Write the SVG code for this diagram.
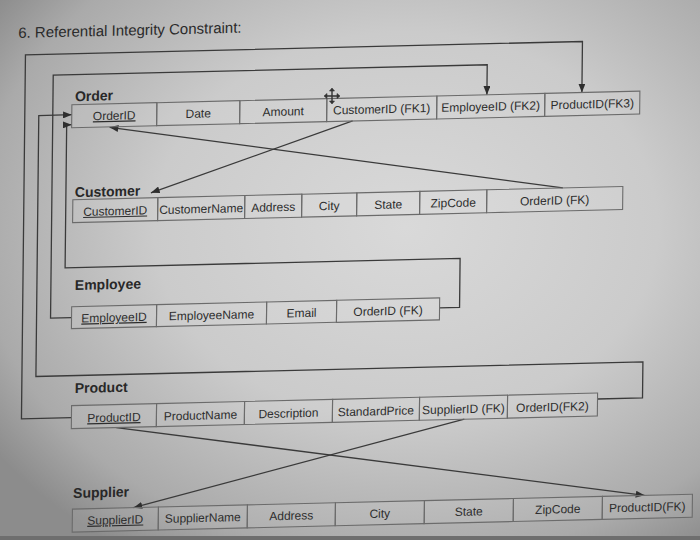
<svg xmlns="http://www.w3.org/2000/svg" width="700" height="540" viewBox="0 0 700 540">
<defs>
  <radialGradient id="bg" cx="0.58" cy="0.42" r="0.72">
    <stop offset="0" stop-color="#d9d9d9"/>
    <stop offset="0.5" stop-color="#cbcbcb"/>
    <stop offset="0.85" stop-color="#aaaaaa"/>
    <stop offset="1" stop-color="#8c8c8c"/>
  </radialGradient>
  <marker id="ah" viewBox="0 0 10 8" refX="10" refY="4" markerWidth="9" markerHeight="7" markerUnits="userSpaceOnUse" orient="auto">
    <path d="M0,0 L10,4 L0,8 z" fill="#2e2e2e"/>
  </marker>
  <style>
    .cell { fill:#ffffff; fill-opacity:0.07; stroke:#6b6b6b; stroke-width:1.1; }
    .t { font-family:"Liberation Sans", Arial, sans-serif; font-size:12px; fill:#2d2d2d; text-anchor:middle; }
    .pk { text-decoration:underline; }
    .lbl { font-family:"Liberation Sans", Arial, sans-serif; font-size:14px; font-weight:bold; fill:#282828; }
    .title { font-family:"Liberation Sans", Arial, sans-serif; font-size:15px; fill:#2a2a2a; }
    .conn { fill:none; stroke:#3a3a3a; stroke-width:1.3; }
    .arr { marker-end:url(#ah); }
  </style>
</defs>
<rect x="0" y="0" width="700" height="540" fill="url(#bg)"/>
<rect x="0" y="536" width="700" height="4" fill="#6e6e6e"/>

<g transform="matrix(1,-0.024,-0.011,1,2.97,8.4)">
  <text class="title" x="15.5" y="30">6. Referential Integrity Constraint:</text>

  <g id="connectors">
    <path class="conn arr" d="M73,411 H23 V47 H580 V98"/>
    <path class="conn arr" d="M72,311 H51 V68 H485 V98"/>
    <path class="conn arr" d="M599,405 H644 V369 H37 V108 H70"/>
    <path class="conn arr" d="M440,310 H460 V261 H65 V118 H70"/>
    <path class="conn arr" d="M351,121 L150,188"/>
    <path class="conn arr" d="M562,193 L108,121.5"/>
    <path class="conn arr" d="M466,422 L136,502.5"/>
    <path class="conn arr" d="M118,422 L647,502.5"/>
  </g>

  <g id="order">
    <text class="lbl" x="73" y="94.5">Order</text>
    <rect class="cell" x="70" y="98" width="85" height="23"/>
    <rect class="cell" x="155" y="98" width="83" height="23"/>
    <rect class="cell" x="238" y="98" width="87" height="23"/>
    <rect class="cell" x="325" y="98" width="110" height="23"/>
    <rect class="cell" x="435" y="98" width="108" height="23"/>
    <rect class="cell" x="543" y="98" width="95" height="23"/>
    <text class="t pk" x="112.5" y="114">OrderID</text>
    <text class="t" x="196.5" y="114">Date</text>
    <text class="t" x="281.5" y="114">Amount</text>
    <text class="t" x="380" y="114">CustomerID (FK1)</text>
    <text class="t" x="489" y="114">EmployeeID (FK2)</text>
    <text class="t" x="590.5" y="114">ProductID(FK3)</text>
  </g>

  <g id="customer">
    <text class="lbl" x="74" y="190.5">Customer</text>
    <rect class="cell" x="72" y="193" width="85" height="23"/>
    <rect class="cell" x="157" y="193" width="87" height="23"/>
    <rect class="cell" x="244" y="193" width="57" height="23"/>
    <rect class="cell" x="301" y="193" width="55" height="23"/>
    <rect class="cell" x="356" y="193" width="63" height="23"/>
    <rect class="cell" x="419" y="193" width="67" height="23"/>
    <rect class="cell" x="486" y="193" width="136" height="23"/>
    <text class="t pk" x="114.5" y="209.5">CustomerID</text>
    <text class="t" x="200.5" y="209.5">CustomerName</text>
    <text class="t" x="272.5" y="209.5">Address</text>
    <text class="t" x="328.5" y="209.5">City</text>
    <text class="t" x="387.5" y="209.5">State</text>
    <text class="t" x="452.5" y="209.5">ZipCode</text>
    <text class="t" x="554" y="209.5">OrderID (FK)</text>
  </g>

  <g id="employee">
    <text class="lbl" x="75" y="283.5">Employee</text>
    <rect class="cell" x="72" y="300" width="85" height="22"/>
    <rect class="cell" x="157" y="300" width="110" height="22"/>
    <rect class="cell" x="267" y="300" width="70" height="22"/>
    <rect class="cell" x="337" y="300" width="103" height="22"/>
    <text class="t pk" x="114.5" y="316">EmployeeID</text>
    <text class="t" x="212" y="316">EmployeeName</text>
    <text class="t" x="302" y="316">Email</text>
    <text class="t" x="388.5" y="316">OrderID (FK)</text>
  </g>

  <g id="product">
    <text class="lbl" x="76" y="386.5">Product</text>
    <rect class="cell" x="73" y="399" width="85" height="23"/>
    <rect class="cell" x="158" y="399" width="88" height="23"/>
    <rect class="cell" x="246" y="399" width="88" height="23"/>
    <rect class="cell" x="334" y="399" width="87" height="23"/>
    <rect class="cell" x="421" y="399" width="88" height="23"/>
    <rect class="cell" x="509" y="399" width="90" height="23"/>
    <text class="t pk" x="115.5" y="416">ProductID</text>
    <text class="t" x="202" y="416">ProductName</text>
    <text class="t" x="290" y="416">Description</text>
    <text class="t" x="377.5" y="416">StandardPrice</text>
    <text class="t" x="465" y="416">SupplierID (FK)</text>
    <text class="t" x="554" y="416">OrderID(FK2)</text>
  </g>

  <g id="supplier">
    <text class="lbl" x="75.5" y="491.3">Supplier</text>
    <rect class="cell" x="75" y="502.5" width="86" height="23"/>
    <rect class="cell" x="161" y="502.5" width="89" height="23"/>
    <rect class="cell" x="250" y="502.5" width="88" height="23"/>
    <rect class="cell" x="338" y="502.5" width="89" height="23"/>
    <rect class="cell" x="427" y="502.5" width="89" height="23"/>
    <rect class="cell" x="516" y="502.5" width="89" height="23"/>
    <rect class="cell" x="605" y="502.5" width="90" height="23"/>
    <text class="t pk" x="118" y="518.5">SupplierID</text>
    <text class="t" x="205.5" y="518.5">SupplierName</text>
    <text class="t" x="294" y="518.5">Address</text>
    <text class="t" x="382.5" y="518.5">City</text>
    <text class="t" x="471.5" y="518.5">State</text>
    <text class="t" x="560.5" y="518.5">ZipCode</text>
    <text class="t" x="650" y="518.5">ProductID(FK)</text>
  </g>
</g>

<g id="cursor" fill="#333" stroke="#333" stroke-width="1.4">
  <path d="M332,90 V102 M326,96 H338" fill="none"/>
  <path d="M332,88 l-2.5,3 h5 z M332,104 l-2.5,-3 h5 z M324,96 l3,-2.5 v5 z M340,96 l-3,-2.5 v5 z" stroke-width="0.6"/>
</g>
</svg>
